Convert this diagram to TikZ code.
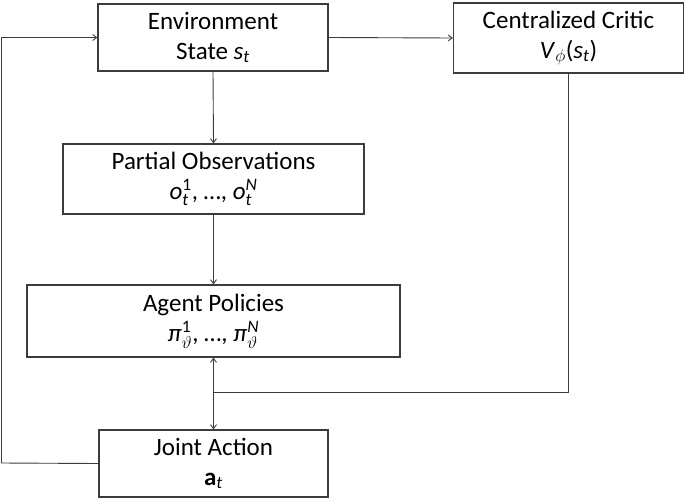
\documentclass[tikz,border=0pt]{standalone}
\usepackage{amsmath}
\usepackage{fontspec}
\setmainfont{Carlito}
\usepackage{xcolor}
\usetikzlibrary{arrows.meta}
\definecolor{lineGray}{RGB}{60,60,60}
\tikzset{
  box/.style={rectangle, draw=lineGray, line width=1.3pt, fill=white,
              minimum width=#1, inner sep=0pt,
              font=\fontsize{25}{30}\selectfont, text centered, align=center},
  arr/.style={-{Straight Barb[length=4pt,width=6pt]}, line width=0.9pt, lineGray},
  link/.style={line width=0.9pt, lineGray},
}
\newcommand{\sx}[1]{\textit{#1}}

\begin{document}
\begin{tikzpicture}[x=1pt, y=-1pt]
        \useasboundingbox (0,0) rectangle (685,498);

        % Boxes
        \node[box=230pt, minimum height=67pt] (env)    at (213,37.5)  {Environment\\State \sx{s}$_{\sx{t}}$};
        \node[box=230pt, minimum height=70pt] (critic) at (568.5,38)  {Centralized Critic\\\sx{V}$_{\phi}$(\sx{s}$_{\sx{t}}$)};
        \node[box=301pt, minimum height=70pt] (obs)    at (213.5,179) {Partial Observations\\\sx{o}$^{\textrm{1}}_{\sx{t}}$, \dots, \sx{o}$^{\sx{N}}_{\sx{t}}$};
        \node[box=373pt, minimum height=72pt] (agent)  at (213.5,321) {Agent Policies\\\sx{π}$^{\textrm{1}}_{\vartheta}$, \dots, \sx{π}$^{\sx{N}}_{\vartheta}$};
        \node[box=229pt, minimum height=67pt] (joint)  at (213.5,463.5) {Joint Action\\\textbf{a}$_{\sx{t}}$};

        % Forward flow
        \draw[arr] (env.east) -- (critic.west);
        \draw[arr] (env.south) -- (obs.north);
        \draw[arr] (obs.south) -- (agent.north);
        \draw[arr, {Straight Barb[length=4pt,width=6pt]}-{Straight Barb[length=4pt,width=6pt]}] (agent.south) -- (joint.north);

        % Critic feedback
        \coordinate (fb) at (213.5,392);
        \draw[link] (critic.south) |- (fb);

        % Loop back to environment
        \coordinate (lft) at (1.5,463);
        \draw[arr] (joint.west) -- (lft) |- (env.west);
      \end{tikzpicture}
\end{document}
